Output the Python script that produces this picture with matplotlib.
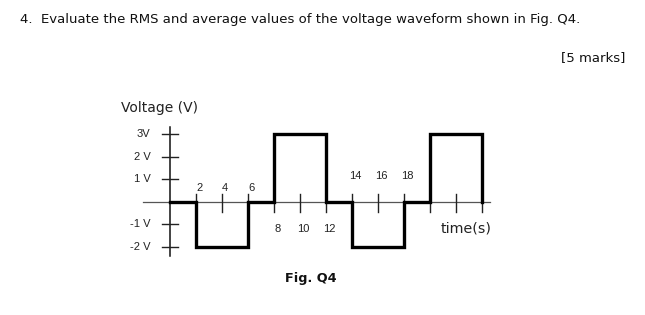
import matplotlib
matplotlib.use("Agg")
import matplotlib.pyplot as plt
import numpy as np

# waveform: level changes at these times (s), volts held until next edge
edges = [0, 2, 6, 8, 12, 14, 18, 20, 24]
levels = [0, -2, 0, 3, 0, -2, 0, 3]
# axis labels
ytick_vals = [3, 2, 1, -1, -2]
ytick_text = ["3V", "2 V", "1 V", "-1 V", "-2 V"]
xtick_vals = [2, 4, 6, 8, 10, 12, 14, 16, 18, 20, 22, 24]
xlab_vals = [2, 4, 6, 8, 10, 12, 14, 16, 18]

fig = plt.figure(figsize=(6.45, 3.15), dpi=100)
fig.patch.set_facecolor("white")

# axes placed so that t=0 sits near x=170px and the zero line near y=203px
ax = fig.add_axes([0.2031, 0.146, 0.5845, 0.5357])
ax.set_xlim(-3, 26)
ax.set_ylim(-3, 4.5)
ax.axis("off")

# coordinate axes
ax.plot([-2.1, 24.6], [0, 0], color="#555555", lw=0.9)
ax.plot([0, 0], [-2.4, 3.3], color="#111111", lw=1.1)

for v, s in zip(ytick_vals, ytick_text):
    ax.plot([-0.65, 0.65], [v, v], color="#222222", lw=1.0)
    ax.text(-1.5, v, s, ha="right", va="center", fontsize=8,
            family="Liberation Sans", color="#222222")

for t in xtick_vals:
    ax.plot([t, t], [-0.45, 0.35], color="#222222", lw=1.0)

# waveform
t_path = [edges[0]]
v_path = [levels[0]]
for i, lv in enumerate(levels):
    t_path += [edges[i], edges[i + 1]]
    v_path += [lv, lv]
t_path.append(edges[-1])
v_path.append(0)
ax.plot(t_path, v_path, color="black", lw=2.4, solid_joinstyle="miter")

# time labels, placed above/below the axis like the original sketch
for t in xlab_vals:
    if t <= 6:
        y = 0.62
    elif t <= 12:
        y = -1.22
    else:
        y = 1.12
    ax.text(t + 0.25, y, str(t), ha="center", va="center", fontsize=8,
            family="Liberation Sans", color="#222222")

ax.text(20.8, -1.18, "time(s)", ha="left", va="center", fontsize=10.3,
        color="#222222")

fig.text(0.031, 0.937,
         "4.  Evaluate the RMS and average values of the voltage waveform shown in Fig. Q4.",
         ha="left", va="center", fontsize=9.5, color="#111111")
fig.text(0.969, 0.816, "[5 marks]", ha="right", va="center", fontsize=9.5,
         color="#111111")
fig.text(0.188, 0.657, "Voltage (V)", ha="left", va="center", fontsize=10,
         color="#222222")
fig.text(0.482, 0.117, "Fig. Q4", ha="center", va="center", fontsize=9.2,
         fontweight="bold", color="#111111")

fig.savefig("out.png", dpi=100)
